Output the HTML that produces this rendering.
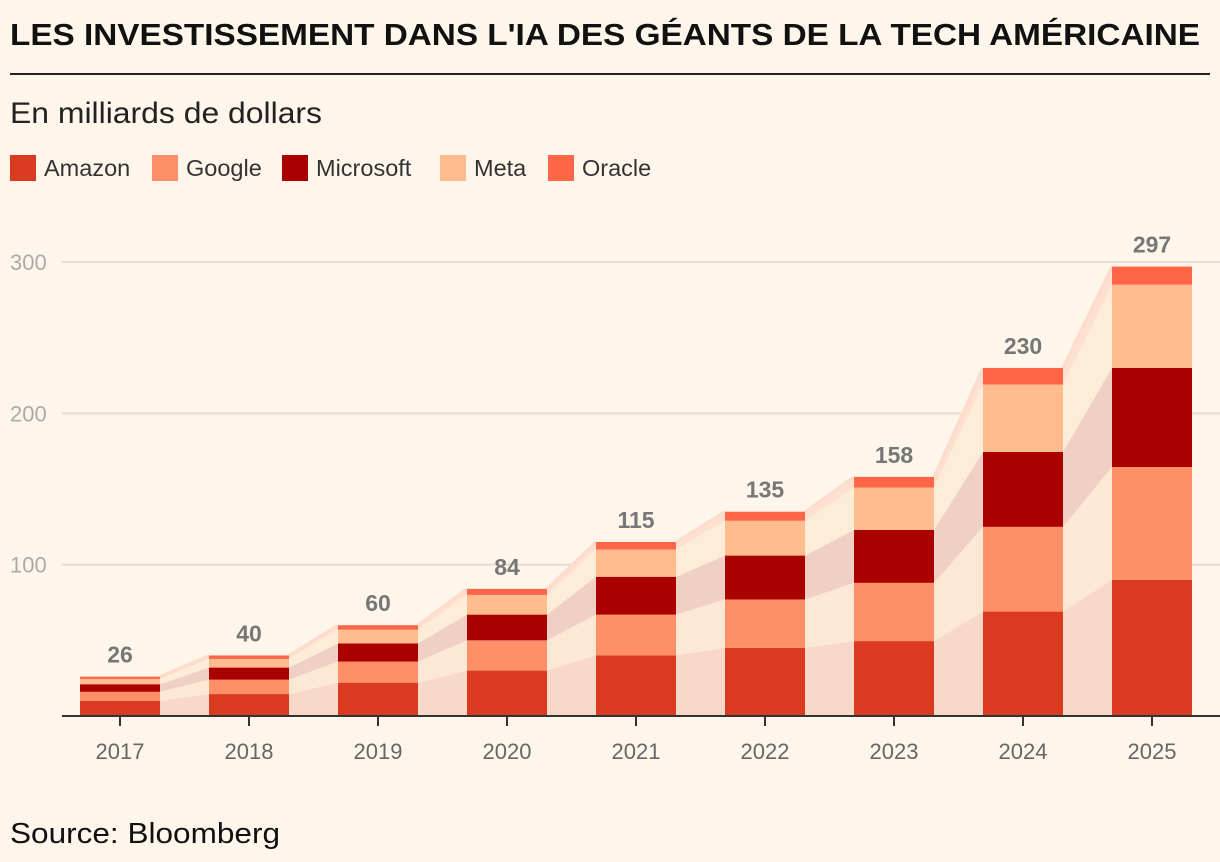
<!DOCTYPE html>
<html><head><meta charset="utf-8"><style>
body{margin:0;background:#fef6ea;font-family:"Liberation Sans",sans-serif;}
#wrap{position:relative;width:1220px;height:862px;overflow:hidden;background:#fef6ea}
</style></head><body>
<div id="wrap">
<svg id="svg" width="1220" height="862">
<text x="10" y="45" font-size="31" font-weight="bold" fill="#111" textLength="1190" lengthAdjust="spacingAndGlyphs">LES INVESTISSEMENT DANS L'IA DES GÉANTS DE LA TECH AMÉRICAINE</text>
<rect x="10" y="73" width="1200" height="2" fill="#222"/>
<text x="10" y="123" font-size="30" fill="#222" textLength="312" lengthAdjust="spacingAndGlyphs">En milliards de dollars</text>
<text x="10" y="843" font-size="29" fill="#111" textLength="270" lengthAdjust="spacingAndGlyphs">Source: Bloomberg</text>
<g id="legend"></g><g id="grid"></g><g id="bands"></g><g id="bars"></g><g id="axis"></g>
</svg>
</div>
<script>
const years=["2017","2018","2019","2020","2021","2022","2023","2024","2025"];
const seriesNames=["Amazon","Google","Microsoft","Meta","Oracle"];
const amazon=[10,14.5,22,30,40,45,49.5,69,90];
const google=[6,9.5,14,20,27,32,38.5,56,74.5];
const microsoft=[5,8,12,17,25,29,35,49.5,65.5];
const meta=[3.5,5.7,9,13,18,23,28,44.5,55];
const oracle=[1.5,2.3,3,4,5,6,7,11,12];
const totals=[26,40,60,84,115,135,158,230,297];
const yTicks=[100,200,300];
const series=[amazon,google,microsoft,meta,oracle];
const colors=["#d93a20","#ff8f66","#aa0000","#ffbd8f","#ff6647"];
const bandColors=["#f8d8c8","#fde8d6","#f0d0c4","#fdecd8","#fde0d0"];
const NS="http://www.w3.org/2000/svg";
function el(t,a,p){const e=document.createElementNS(NS,t);for(const k in a)e.setAttribute(k,a[k]);p.appendChild(e);return e;}
const y=v=>716-v*454/300;
const xc=i=>120+i*129;
const bw=80;
// legend
const lg=document.getElementById('legend');
const lx=[10,152,282,440,548];
seriesNames.forEach((n,i)=>{
 const r=el('rect',{x:lx[i],y:155,width:26,height:26,fill:colors[i]},lg);
 
 
 const t=el('text',{x:lx[i]+34,y:176,'font-size':23.5,fill:'#333'},lg);t.textContent=n;
 
 
});
// grid
const g=document.getElementById('grid');
yTicks.forEach(v=>{
 const l=el('line',{x1:62,x2:1220,y1:y(v),y2:y(v),stroke:'#e6ddd0','stroke-width':2},g);
 
 
 const t=el('text',{x:10,y:y(v)+8,'font-size':22,fill:'#aaa'},g);t.textContent=v;
 
 
});
const cum=years.map((_,i)=>{let s=0;return series.map(a=>{const b=s;s+=a[i];return [b,s];});});
const bands=document.getElementById('bands');
for(let i=0;i<years.length-1;i++){
 const x1=xc(i)+bw/2,x2=xc(i+1)-bw/2;
 series.forEach((a,k)=>{
  const p=el('polygon',{points:`${x1},${y(cum[i][k][0])} ${x2},${y(cum[i+1][k][0])} ${x2},${y(cum[i+1][k][1])} ${x1},${y(cum[i][k][1])}`,fill:bandColors[k]},bands);
  
  
 });
 const ln=el('line',{x1:x1,y1:y(cum[i][4][1]),x2:x2,y2:y(cum[i+1][4][1]),stroke:'#fddccc','stroke-width':3},bands);
 
 
}
const bars=document.getElementById('bars');
years.forEach((yr,i)=>{
 series.forEach((a,k)=>{
  const [b,t]=cum[i][k];
  const r=el('rect',{x:xc(i)-bw/2,y:y(t),width:bw,height:y(b)-y(t),fill:colors[k]},bars);
  
  
 });
 const tt=el('text',{x:xc(i),y:y(cum[i][4][1])-14,'font-size':23,'font-weight':'bold',fill:'#777','text-anchor':'middle'},bars);
 tt.textContent=totals[i];
 
 
});
const ax=document.getElementById('axis');
const al=el('line',{x1:62,x2:1220,y1:716,y2:716,stroke:'#333','stroke-width':2},ax);


years.forEach((yr,i)=>{
 const tk=el('line',{x1:xc(i),x2:xc(i),y1:716,y2:726,stroke:'#333','stroke-width':2},ax);
 
 
 const t=el('text',{x:xc(i),y:759,'font-size':22,fill:'#666','text-anchor':'middle'},ax);t.textContent=yr;
 
 
});
</script>
</body></html>
